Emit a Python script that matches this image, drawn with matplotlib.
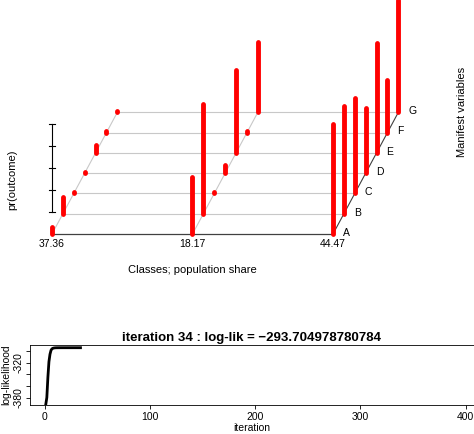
import numpy as np
import matplotlib.pyplot as plt

plt.rcParams['font.family'] = ['Liberation Sans', 'DejaVu Sans']

# class shares and item-response probabilities (per class, variables A..G)
shares = ['37.36', '18.17', '44.47']
variables = ['A', 'B', 'C', 'D', 'E', 'F', 'G']
probs = [
    [0.06, 0.15, 0.01, 0.01, 0.07, 0.01, 0.01],
    [0.52, 1.00, 0.01, 0.07, 0.75, 0.01, 0.64],
    [1.00, 0.98, 0.87, 0.59, 1.00, 0.48, 1.05],
]
loglik = [-392, -380, -345, -318, -305, -298, -295.5, -294.5, -294.1, -293.9,
          -293.8, -293.76, -293.74, -293.73, -293.72, -293.715, -293.712,
          -293.71, -293.709, -293.708, -293.707, -293.7065, -293.706,
          -293.7057, -293.7055, -293.7053, -293.7052, -293.7051, -293.705,
          -293.705, -293.705, -293.705, -293.705, -293.705]

fig = plt.figure(figsize=(4.74, 4.34), dpi=100)

# oblique "3D" panel drawn in pixel space
ax = fig.add_axes([0, 0, 1, 1])
ax.set_xlim(0, 474)
ax.set_ylim(434, 0)
ax.axis('off')

x0, y0 = 52, 234          # origin of class 1, variable A
class_dx = 140.5          # spacing between classes
step_dx, step_dy = 10.9, -20.3
hscale = 110              # pixels per unit probability

def base(c, v):
    return x0 + c * class_dx + v * step_dx, y0 + v * step_dy

nv = len(variables)
# grid lines for each variable
for v in range(1, nv):
    xa, ya = base(0, v)
    xb, yb = base(len(shares) - 1, v)
    ax.plot([xa, xb], [ya, yb], color='#c8c8c8', lw=0.8, zorder=1)
for c in range(len(shares)):
    xa, ya = base(c, 0)
    xb, yb = base(c, nv - 1)
    col = '#404040' if c == len(shares) - 1 else '#c8c8c8'
    ax.plot([xa, xb], [ya, yb], color=col, lw=0.8, zorder=1)
xa, ya = base(0, 0)
xb, yb = base(len(shares) - 1, 0)
ax.plot([xa, xb], [ya, yb], color='#404040', lw=0.9, zorder=1)

# bars
for c, row in enumerate(probs):
    for v, p in enumerate(row):
        xb_, yb_ = base(c, v)
        top = max(yb_ - p * hscale, 0)
        ax.plot([xb_, xb_], [yb_, top], color='red', lw=3.5,
                solid_capstyle='round', zorder=3)

# variable labels
for v, name in enumerate(variables):
    xb_, yb_ = base(len(shares) - 1, v)
    ax.text(xb_ + 10, yb_ - 1, name, fontsize=7.5, ha='left', va='center')
# class share labels
for c, s in enumerate(shares):
    xb_, yb_ = base(c, 0)
    ax.text(xb_, yb_ + 10, s, fontsize=7.5, ha='center', va='center')

# probability axis
ax.plot([x0, x0], [124, 212], color='black', lw=0.8)
for t in np.arange(0.2, 1.01, 0.2):
    ty = y0 - t * hscale
    ax.plot([x0 - 3, x0 + 3], [ty, ty], color='black', lw=0.8)

ax.text(12, 180, 'pr(outcome)', fontsize=8, rotation=90, ha='center', va='center')
ax.text(192, 270, 'Classes; population share', fontsize=8, ha='center', va='center')
ax.text(462, 112, 'Manifest variables', fontsize=8, rotation=90, ha='center', va='center')

# log-likelihood trace
ax2 = fig.add_axes([30 / 474, 1 - 405 / 434, 444 / 474, 60 / 434])
iters = np.arange(1, len(loglik) + 1)
ax2.plot(iters, loglik, color='black', lw=2)
ax2.set_xlim(-14, 408)
ax2.set_ylim(-393, -289)
ax2.set_xticks([0, 100, 200, 300, 400])
ax2.set_yticks([-380, -360, -340, -320, -300])
ax2.set_yticklabels(['-380', '', '', '-320', ''], rotation=90, va='center')
ax2.tick_params(labelsize=7.5, length=3, width=0.6, pad=2)
for sp in ax2.spines.values():
    sp.set_linewidth(0.6)
ax2.set_xlabel('iteration', fontsize=7.5, labelpad=1)
ax2.set_ylabel('log-likelihood', fontsize=7.5, labelpad=1)
ax2.set_title('iteration 34 : log-lik = \u2212293.704978780784', fontsize=9.5,
              fontweight='bold', pad=3)

fig.savefig('out.png', dpi=100)
